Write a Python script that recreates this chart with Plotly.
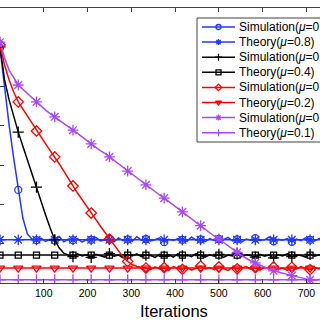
import plotly.graph_objects as go

# ---------------- data ----------------
STEP = 1000 / 96          # iteration spacing of the sampled simulation curves
MARK_EVERY = 4            # marker on every 4th sample (every 41.7 iterations)

MU_LABELS = ["0.8", "0.4", "0.2", "0.1"]

SIM_MU08 = [9.8, -0.4, -9.8, -18.2, -26.3, -33.4, -37.5, -38.8,
            -39.1, -38.6, -39.4, -38.9, -39.2, -38.2, -39.5, -38.8, -39.1, -38.7,
            -39.6, -38.9, -39.0, -38.4, -39.3, -39.0, -38.8, -39.5, -38.5, -39.2,
            -38.9, -39.4, -38.2, -39.1, -38.8, -39.3, -39.0, -38.5, -39.6, -38.9,
            -39.2, -38.7, -39.0, -39.4, -38.3, -39.1, -38.9, -39.5, -38.7, -39.2,
            -38.8, -39.0, -38.4, -39.3, -38.9, -39.6, -38.8, -39.1, -38.6, -39.2,
            -39.0, -38.3, -39.4, -38.9, -39.1, -38.7, -39.5, -38.8, -39.2, -38.5,
            -39.0, -39.3, -38.7, -39.1, -38.9, -39.4, -38.6, -39.0, -39.2, -38.8]

SIM_MU04 = [10.1, 1.7, -3.4, -7.7, -11.6, -15.1, -18.7, -22.0, -25.6, -29.1,
            -32.7, -36.0, -39.0, -41.1, -42.4,
            -42.9, -43.3, -42.6, -43.1, -42.8, -43.5, -42.7, -43.0, -43.4, -42.5,
            -43.2, -42.9, -43.6, -42.8, -43.1, -42.6, -43.3, -42.9, -43.0, -43.5,
            -42.7, -43.2, -42.8, -43.4, -42.6, -43.1, -42.9, -43.3, -42.5, -43.0,
            -43.4, -42.8, -43.2, -42.7, -43.5, -42.9, -43.1, -42.6, -43.3, -42.8,
            -43.0, -43.4, -42.7, -43.2, -42.9, -43.6, -42.8, -43.1, -42.6, -43.3,
            -42.9, -43.0, -43.4, -42.7, -43.2, -42.8, -43.1, -42.6, -43.3, -42.9,
            -43.0, -43.2, -42.8]

SIM_MU02 = [10.6, 5.5, 1.7, -1.4, -3.9, -5.7, -7.5, -9.3, -11.3, -13.0,
            -14.6, -16.3, -17.9, -19.7, -21.5, -23.5, -25.3, -27.1, -28.7, -30.4,
            -32.2, -33.8, -35.5, -37.1, -38.8, -40.3, -41.8, -43.4, -44.5, -45.3,
            -45.8, -46.0,
            -46.2, -46.6, -45.9, -46.4, -46.1, -46.8, -45.8, -46.3, -46.5, -46.0,
            -46.7, -46.2, -45.7, -46.4, -46.1, -46.6, -45.9, -46.3, -46.8, -46.0,
            -46.4, -46.2, -45.8, -46.5, -46.1, -46.7, -46.0, -46.3, -45.9, -46.5,
            -46.2, -46.8, -46.0, -46.4, -45.8, -46.3, -46.6, -46.1, -46.4, -45.9,
            -46.5, -46.2, -46.7, -46.0, -46.3, -46.1]

SIM_MU01 = [11.3, 7.3, 4.2, 2.2, 0.4, -0.7, -1.8, -2.9, -3.9, -4.9,
            -6.0, -6.9, -7.7, -8.5, -9.4, -10.3, -11.1, -11.9, -12.8, -13.7,
            -14.6, -15.4, -16.3, -17.0, -17.9, -18.8, -19.7, -20.6, -21.5, -22.4,
            -23.3, -24.2, -25.0, -25.8, -26.7, -27.6, -28.4, -29.2, -30.1, -31.0,
            -31.9, -32.8, -33.7, -34.6, -35.4, -36.3, -37.3, -38.1, -38.8, -39.7,
            -40.6, -41.5, -42.2, -43.0, -43.8, -44.4, -44.9, -45.5, -46.0, -46.5,
            -46.9, -47.3, -47.5, -47.8, -48.1, -48.3, -48.7, -49.0, -49.2, -49.3,
            -49.1, -49.3, -49.2, -49.4, -49.1, -49.3, -49.2, -49.3]

SIMS = [SIM_MU08, SIM_MU04, SIM_MU02, SIM_MU01]
THEORY_LEVELS = [-39.0, -42.9, -46.2, -49.2]
THEORY_ITER = [0, 41.7, 83.3, 125, 166.7, 208.3, 250, 291.7, 333.3, 375, 416.7,
               458.3, 500, 541.7, 583.3, 625, 666.7, 708.3, 750, 791.7]

X_TICKS = [0, 100, 200, 300, 400, 500, 600, 700]
Y_TICKS = [-50, -40, -30, -20, -10, 0, 10, 20]

# ---------------- styles ----------------
COLORS = ["#2038ff", "#000000", "#ff0000", "#a848ff"]
SIM_SYMBOLS = ["circle-open", "cross-thin-open", "diamond-open", "asterisk-open"]
SIM_SIZES = [7, 8, 8, 9]
TH_SYMBOLS = ["asterisk-open", "square-open", "triangle-down-open", "cross-thin-open"]
TH_SIZES = [9, 6, 8, 8]
FONT = "Arial, Liberation Sans, Helvetica, sans-serif"
AXC = "#404040"

fig = go.Figure()

for k in range(4):
    y = SIMS[k]
    x = [i * STEP for i in range(len(y))]
    c = COLORS[k]
    fig.add_trace(go.Scatter(x=x, y=y, mode="lines",
                             line=dict(color=c, width=1.5), showlegend=False))
    fig.add_trace(go.Scatter(x=x[::MARK_EVERY], y=y[::MARK_EVERY], mode="markers",
                             marker=dict(symbol=SIM_SYMBOLS[k], size=SIM_SIZES[k], color=c,
                                         line=dict(color=c, width=1.3)),
                             showlegend=False))
    fig.add_trace(go.Scatter(x=THEORY_ITER, y=[THEORY_LEVELS[k]] * len(THEORY_ITER),
                             mode="lines+markers",
                             line=dict(color=c, width=1.5),
                             marker=dict(symbol=TH_SYMBOLS[k], size=TH_SIZES[k], color=c,
                                         line=dict(color=c, width=1.3)),
                             showlegend=False))

# ---------------- manual legend (pixel-like overlay axes) ----------------
PLOT_TOP, PLOT_BOTTOM = 8, 283
LEG_X0, LEG_Y0, LEG_Y1 = 197, 18, 142
ROW0, ROW_H = 27, 15.1
labels = []
for k in range(4):
    labels.append(("Simulation(<i>μ</i>=" + MU_LABELS[k] + ")", k, SIM_SYMBOLS[k]))
    labels.append(("Theory(<i>μ</i>=" + MU_LABELS[k] + ")", k, TH_SYMBOLS[k]))

fig.add_shape(type="rect", xref="x2", yref="y2", x0=LEG_X0, x1=340, y0=LEG_Y0, y1=LEG_Y1,
              line=dict(color=AXC, width=1), fillcolor="white", layer="below")
for r, (txt, k, sym) in enumerate(labels):
    yy = ROW0 + r * ROW_H
    c = COLORS[k]
    fig.add_trace(go.Scatter(x=[LEG_X0 + 5, LEG_X0 + 38], y=[yy, yy], mode="lines",
                             line=dict(color=c, width=1.5), xaxis="x2", yaxis="y2",
                             showlegend=False, hoverinfo="skip"))
    fig.add_trace(go.Scatter(x=[LEG_X0 + 21.5], y=[yy], mode="markers",
                             marker=dict(symbol=sym, size=5, color=c, line=dict(color=c, width=1.3)),
                             xaxis="x2", yaxis="y2", showlegend=False, hoverinfo="skip"))
    fig.add_annotation(x=LEG_X0 + 40, y=yy, xref="x2", yref="y2", text=txt,
                       showarrow=False, xanchor="left", yanchor="middle",
                       font=dict(family=FONT, size=12, color="#000000"))

fig.add_annotation(x=174 / 320, y=(PLOT_BOTTOM - 311) / (PLOT_BOTTOM - PLOT_TOP),
                   xref="paper", yref="paper", text="Iterations", showarrow=False,
                   xanchor="center", yanchor="middle",
                   font=dict(family=FONT, size=16.5, color="#000000"))

fig.update_layout(
    width=320, height=320, autosize=False,
    margin=dict(l=0, r=0, t=PLOT_TOP, b=320 - PLOT_BOTTOM, pad=0),
    paper_bgcolor="white", plot_bgcolor="white",
    showlegend=False,
    xaxis=dict(range=[0, 731], tickvals=X_TICKS, ticks="inside", ticklen=4,
               tickcolor=AXC, showline=True, linecolor=AXC, linewidth=1, mirror="ticks",
               showgrid=False, zeroline=False,
               tickfont=dict(family=FONT, size=10.5, color="#000000")),
    yaxis=dict(range=[-50, 20], tickvals=Y_TICKS, ticks="inside", ticklen=4,
               tickcolor=AXC, showline=True, linecolor=AXC, linewidth=1, mirror=False,
               showgrid=False, zeroline=False, showticklabels=False),
    xaxis2=dict(overlaying="x", range=[0, 320], visible=False, fixedrange=True),
    yaxis2=dict(overlaying="y", range=[PLOT_BOTTOM, PLOT_TOP], visible=False, fixedrange=True),
)

fig.write_html("out.html")
